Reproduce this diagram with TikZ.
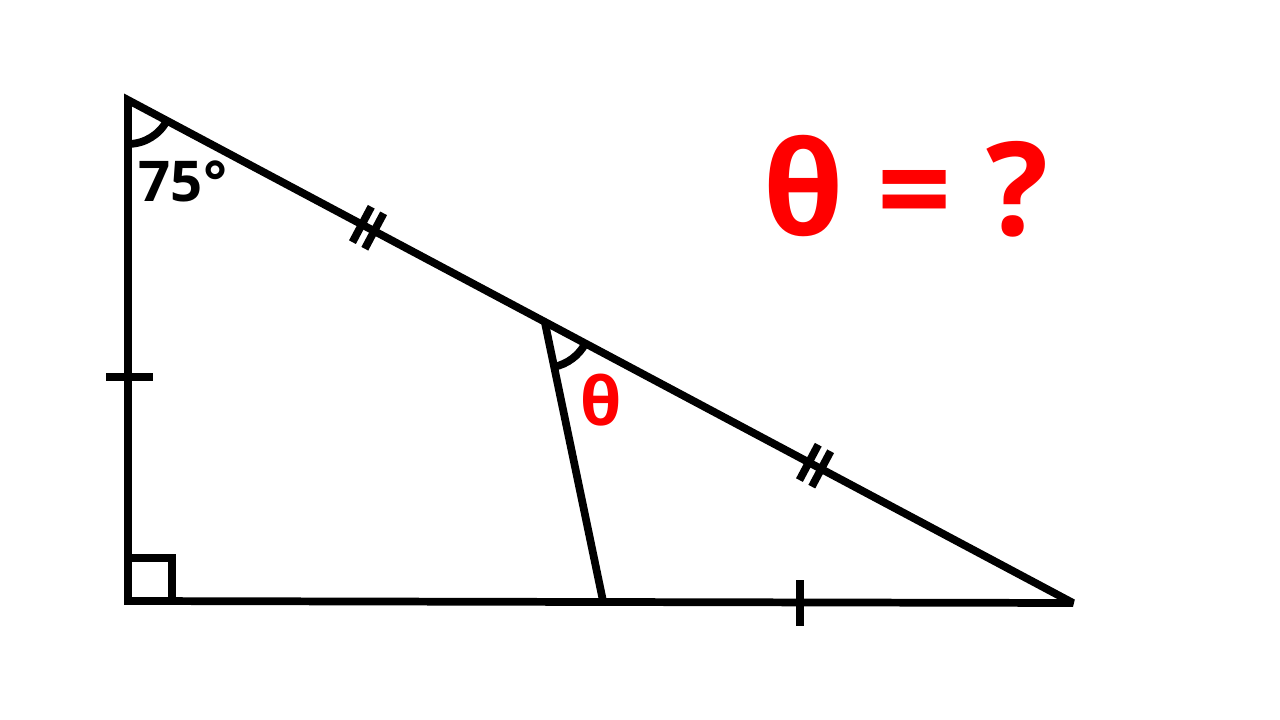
\documentclass[tikz,border=0pt]{standalone}
\usepackage{fontspec}
\setmainfont{Open Sans}
\usetikzlibrary{calc}
\def\centerarc[#1](#2)(#3:#4:#5){\draw[#1] ($(#2)+({#5*cos(#3)},{#5*sin(#3)})$) arc (#3:#4:#5);}

\begin{document}
\begin{tikzpicture}
			%%%%% START %%%%%
			\useasboundingbox (0, 0) rectangle (12.8, -7.2);
			
			\coordinate (A) at (1.28, -1.0);
			\coordinate (B) at (1.28, -6.01);
			\coordinate (C) at (10.73, -6.03);
			\coordinate (D) at ($(A)!0.441!(C)$);
			\coordinate (E) at (6.03, -6.01);
			
			\draw[line width=2.2pt, line join=miter, miter limit=3] (A) -- (B) -- (C) -- cycle;
			\draw[line width=2.2pt] (D) -- (E);
			
			% right angle
			\draw[line width=2.2pt] (1.28, -5.58) -- (1.72, -5.58) -- (1.72, -6.01);
			
			% angle arcs
			\centerarc[line width=2.2pt](A)(-90:-28:0.44);
			\centerarc[line width=2.2pt](D)(-78.3:-28:0.46);
			
			% single ticks
			\draw[line width=2.2pt] (1.06, -3.77) -- (1.53, -3.77);
			\draw[line width=2.2pt] (8.0, -5.80) -- (8.0, -6.26);
			
			% double ticks
			\foreach \t in {0.254, 0.727}{
				\coordinate (p) at ($(A)!\t!(C)$);
				\foreach \s in {-0.07, 0.07}{
					\draw[line width=2.2pt] ($(p)+(0.883*\s, -0.469*\s)+(0.094, 0.177)$) -- ($(p)+(0.883*\s, -0.469*\s)-(0.094, 0.177)$);
				}
			}
			
			\node[font=\bfseries\fontsize{16}{16}\selectfont] (ang) at (1.83, -1.81) {75°};
			\node[font=\bfseries\fontsize{19}{19}\selectfont, color=red] (th) at (6.01, -4.0) {θ};
			\node[font=\bfseries\fontsize{37}{37}\selectfont, color=red] (q) at (9.06, -1.86) {θ = ?};
			
			%%%%% END %%%%%
		\end{tikzpicture}
\end{document}
